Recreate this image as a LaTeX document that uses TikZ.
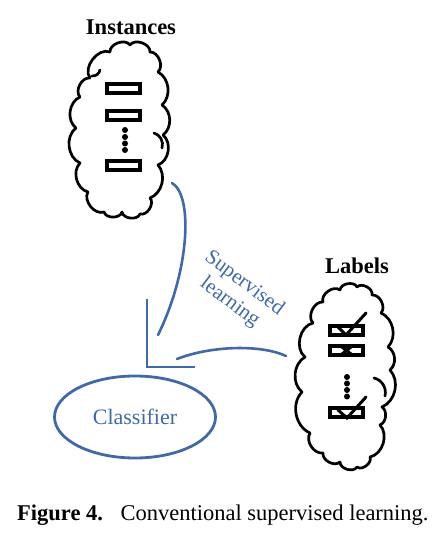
\documentclass[tikz,border=0pt]{standalone}
\usepackage{fontspec}
\setmainfont{Liberation Serif}
\usetikzlibrary{shapes.geometric}
\definecolor{sblue}{RGB}{65,105,165}
\begin{document}
\begin{tikzpicture}[x=1pt,y=-1pt,
  cloudline/.style={line width=2.7pt, line join=round, line cap=round},
  ibox/.style={draw, line width=4pt, minimum width=33pt, minimum height=9pt, inner sep=0pt},
  tickline/.style={line width=3pt, line cap=round},
  dotnode/.style={circle, fill, inner sep=0pt, minimum size=6pt},
  blueline/.style={draw=sblue, line width=2.6pt},
  ttl/.style={font=\fontsize{22.5}{24}\selectfont\bfseries, anchor=base},
]
\useasboundingbox (0,0) rectangle (442,540);

% titles
\node[ttl] (tinst) at (131,35) {Instances};
\node[ttl] (tlab) at (357,273) {Labels};

% Instances cloud
\draw[cloudline] (90,78) to[bend left=75] (110,52) to[bend left=75] (130,45)
  to[bend left=75] (150,52) to[bend left=70] (158,72) to[bend left=55] (162,105)
  to[bend left=55] (163,135) to[bend left=60] (158,165) to[bend left=55] (150,198)
  to[bend left=75] (140,214) to[bend left=75] (122,212) to[bend left=75] (104,212)
  to[bend left=70] (88,192) to[bend left=60] (80,163) to[bend left=60] (76,128)
  to[bend left=60] (80,97) to[bend left=70] (90,78);
\draw[cloudline] (92,76) to[bend right=40] (100,70);
\draw[cloudline] (154,133) to[bend left=45] (162,148);

% Instances content
\node[ibox] (r1) at (123.5,88.5) {};
\node[ibox] (r2) at (123.5,115.5) {};
\node[ibox] (r3) at (123.5,165.5) {};
\node[dotnode] (d1) at (125,130) {};
\node[dotnode] (d2) at (125,137) {};
\node[dotnode] (d3) at (125,143.5) {};
\node[dotnode] (d4) at (125,150) {};

% Labels cloud
\draw[cloudline] (313,323) to[bend left=70] (323,302) to[bend left=75] (340,290)
  to[bend left=75] (357,287) to[bend left=75] (372,295) to[bend left=70] (381,313)
  to[bend left=55] (388,347) to[bend left=55] (390,370) to[bend left=55] (382,407)
  to[bend left=60] (380,425) to[bend left=60] (370,457) to[bend left=75] (357,467)
  to[bend left=75] (340,462) to[bend left=70] (323,453) to[bend left=65] (310,433)
  to[bend left=55] (302,392) to[bend left=55] (305,357) to[bend left=65] (313,323);
\draw[cloudline] (374,378) to[bend left=45] (385,396);

% Labels content
\node[ibox] (b1) at (346,330) {};
\node[ibox] (b2) at (346,350) {};
\node[ibox] (b3) at (346,412.5) {};
\draw[tickline] (338,327) -- (346,335) -- (366,313);
\draw[tickline] (342,347) -- (351,354) (342,354) -- (351,347);
\draw[tickline] (338,410) -- (347,418) -- (366,397);
\node[dotnode] (e1) at (347,377) {};
\node[dotnode] (e2) at (347,383.5) {};
\node[dotnode] (e3) at (347,390) {};
\node[dotnode] (e4) at (347,396.5) {};

% Classifier
\node[draw=sblue, line width=2.8pt, ellipse, minimum width=161pt, minimum height=82pt,
  text=sblue, font=\fontsize{22}{24}\selectfont] (clf) at (135,417) {Classifier};

% blue connectors
\coordinate (a1) at (172,183);
\coordinate (a2) at (158,335);
\coordinate (l1) at (147,299);
\coordinate (l2) at (147,367);
\coordinate (l3) at (195,367);
\coordinate (c1) at (177,359);
\coordinate (c2) at (286,356);
\draw[blueline, line cap=round] (a1) .. controls (193,195) and (190,270) .. (a2);
\draw[blueline] (l1) -- (l2) -- (l3);
\draw[blueline, line cap=round] (c1) .. controls (210,346) and (260,344) .. (c2);

\node[rotate=-37, align=center, text=sblue, font=\fontsize{21}{24}\selectfont, inner sep=1pt] (sl) at (237,293) {Supervised\\learning};

% caption
\node[anchor=base west, font=\fontsize{22.5}{24}\selectfont, inner sep=0pt] (cap) at (17,520)
  {\textbf{Figure 4.}\hspace{10pt} Conventional supervised learning.};
\end{tikzpicture}
\end{document}
